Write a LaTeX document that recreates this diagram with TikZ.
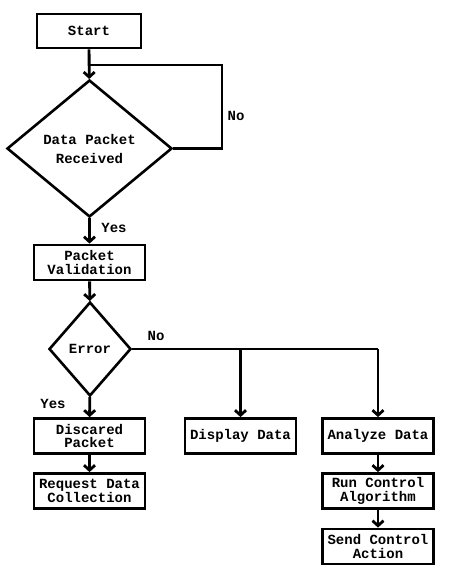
\documentclass[tikz,border=0pt]{standalone}
\usepackage{fontspec}
\setmonofont{Liberation Mono}
\usetikzlibrary{shapes.geometric,arrows.meta}
\begin{document}
\begin{tikzpicture}[x=1pt,y=-1pt,font=\ttfamily\bfseries\fontsize{14}{13.5}\selectfont]
  \tikzstyle{box}=[draw,line width=2.8pt,minimum width=111pt,minimum height=35pt,inner sep=1pt,align=center]
  \tikzstyle{decision}=[draw,diamond,line width=2.6pt,inner sep=0pt,align=center]
  \tikzstyle{line}=[line width=2.8pt]
  \tikzstyle{arrow}=[line,-{Straight Barb[length=5pt,width=11pt]}]
  \useasboundingbox (0,0) rectangle (465,573);
   \node[box,minimum width=104pt,minimum height=34pt] (start) at (89,31) {Start};
   \node[decision,minimum width=165pt,minimum height=137pt,
     font=\ttfamily\bfseries\fontsize{14}{19}\selectfont] (recv) at (89.5,148.5) {Data Packet\\Received};
   \node[box] (valid) at (89.5,262.5) {Packet\\Validation};
   \node[decision,minimum width=82pt,minimum height=94pt] (err) at (90,349) {Error};
   \node[box] (discard) at (89.5,436) {Discared\\Packet};
   \node[box] (request) at (89.5,491) {Request Data\\Collection};
   \node[box] (display) at (240.5,436) {Display Data};
   \node[box] (analyze) at (378,436) {Analyze Data};
   \node[box] (run) at (378,491) {Run Control\\Algorithm};
   \node[box] (send) at (378,546.5) {Send Control\\Action};
   % labels
   \node (no1) at (236,116) {No};
   \node (yes1) at (114,228) {Yes};
   \node (no2) at (156,336) {No};
   \node (yes2) at (53,404) {Yes};
   % connectors
   \coordinate (back) at (222,65);
   \draw[arrow] (start) -- (recv);
   \draw[line] (recv.east) -| (back) -- (back -| recv.north);
   \draw[arrow] (recv) -- (valid);
   \draw[arrow] (valid) -- (err);
   \draw[arrow] (err) -- (discard);
   \draw[arrow] (discard) -- (request);
   \draw[line] (err.east) -- (err.east -| analyze.north);
   \draw[arrow] (err.east -| display.north) -- (display);
   \draw[arrow] (err.east -| analyze.north) -- (analyze);
   \draw[arrow] (analyze) -- (run);
   \draw[arrow] (run) -- (send);
\end{tikzpicture}
\end{document}
